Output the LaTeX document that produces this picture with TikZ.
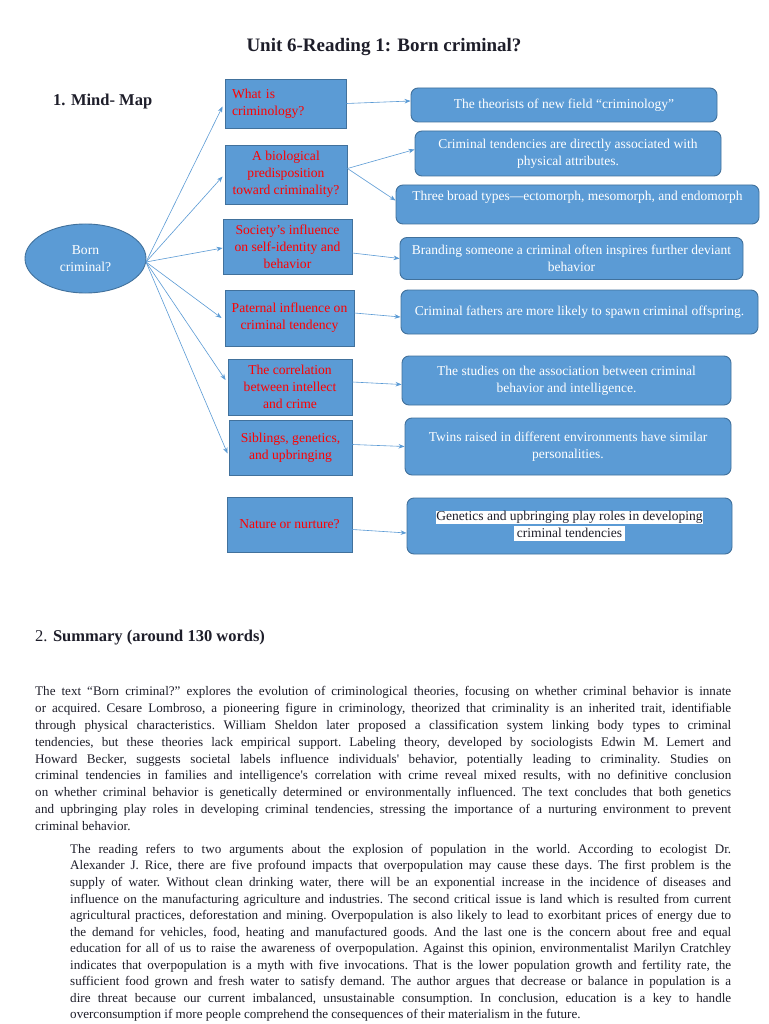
\documentclass[tikz,border=0pt]{standalone}
\usepackage{fontspec}
\setmainfont{Liberation Serif}
\usetikzlibrary{arrows.meta,shapes.geometric}
\definecolor{blu}{HTML}{5B9BD5}
\definecolor{bord}{HTML}{41719C}
\definecolor{ink}{HTML}{1E1E2A}
\newcommand\fsz[2]{\fontsize{#1}{#2}\selectfont}
\tikzset{
  lbox/.style={draw=bord, fill=blu, text=red, align=center, font=\fsz{13.6}{17}, inner sep=1pt, line width=0.9pt},
  rbox/.style={draw=bord, fill=blu, text=white, rounded corners=7pt, align=center, font=\fsz{13.5}{17}, inner sep=1pt, line width=0.9pt},
  arr/.style={draw=blu, line width=0.6pt, -{Stealth[length=6pt,width=4.5pt]}},
  body/.style={anchor=north west, inner sep=0pt, align=justify, text=ink, font=\frenchspacing\fsz{13.1}{16.9}}
}
\begin{document}
\begin{tikzpicture}[x=1pt,y=-1pt]
\useasboundingbox (0,0) rectangle (768,1024);
\fill[white] (0,0) rectangle (768,1024);

\node[font=\bfseries\fsz{19}{20}, text=ink] (title) at (384,47) {Unit 6-Reading 1: Born criminal?};
\node[font=\bfseries\fsz{16.5}{18}, text=ink, anchor=west, inner sep=0pt] (mm) at (53,102) {1. Mind- Map};

% ellipse
\node[ellipse, draw=bord, fill=blu, line width=0.9pt, minimum width=121pt, minimum height=69pt, inner sep=0pt, text=white, align=center, font=\fsz{13.6}{17}] (bc) at (85.5,258.5) {Born\\criminal?};
\coordinate (e) at (146,262);

% left boxes
\node[lbox, minimum width=121pt, minimum height=49pt, text width=107pt, align=left] (b1) at (285.5,103.5) {What is\\criminology?};
\node[lbox, minimum width=122pt, minimum height=59pt] (b2) at (286,174.5) {A biological\\predisposition\\toward criminality?};
\node[lbox, minimum width=129pt, minimum height=55pt] (b3) at (287.5,247) {Society’s influence\\on self-identity and\\behavior};
\node[lbox, minimum width=129pt, minimum height=56pt] (b4) at (289.5,318) {Paternal influence on\\criminal tendency};
\node[lbox, minimum width=124pt, minimum height=56pt] (b5) at (290,387) {The correlation\\between intellect\\and crime};
\node[lbox, minimum width=123pt, minimum height=55pt] (b6) at (290.5,447.5) {Siblings, genetics,\\and upbringing};
\node[lbox, minimum width=125pt, minimum height=55pt] (b7) at (289.5,524.5) {Nature or nurture?};

% right boxes
\node[rbox, minimum width=306pt, minimum height=34pt] (r1) at (564,105) {The theorists of new field “criminology”};
\node[rbox, minimum width=306pt, minimum height=45pt] (r2) at (568,153.5) {Criminal tendencies are directly associated with\\physical attributes.};
\node[rbox, minimum width=363pt, minimum height=39pt] (r3) at (577.5,204.5) {Three broad types—ectomorph, mesomorph, and endomorph\hspace{10pt}\\\mbox{}};
\node[rbox, minimum width=343pt, minimum height=42pt] (r4) at (571.5,258.5) {Branding someone a criminal often inspires further deviant\\behavior};
\node[rbox, minimum width=357pt, minimum height=44pt] (r5) at (579.5,312) {Criminal fathers are more likely to spawn criminal offspring.};
\node[rbox, minimum width=329pt, minimum height=49pt] (r6) at (566.5,380.5) {The studies on the association between criminal\\behavior and intelligence.};
\node[rbox, minimum width=326pt, minimum height=57pt] (r7) at (568,446.5) {Twins raised in different environments have similar\\personalities.};
\node[rbox, minimum width=325pt, minimum height=56pt, text=ink] (r8) at (569.5,526) {\setlength{\fboxsep}{0.6pt}\colorbox{white}{Genetics and upbringing play roles in developing}\\\colorbox{white}{criminal tendencies}};

% arrows from ellipse
\draw[arr] (e) -- ([yshift=-3pt,xshift=-2pt]b1.west);
\draw[arr] (e) -- ([yshift=-2pt,xshift=-2pt]b2.west);
\draw[arr] (e) -- ([yshift=-1pt]b3.west);
\draw[arr] (e) -- ([xshift=-3pt]b4.west);
\draw[arr] (e) -- ([yshift=7pt,xshift=-2pt]b5.west);
\draw[arr] (e) -- ([yshift=-6pt,xshift=-1pt]b6.west);

% arrows to right boxes
\draw[arr] (b1.east) -- ([yshift=4pt]r1.west);
\draw[arr] ([yshift=6pt]b2.east) -- ([yshift=4pt]r2.west);
\draw[arr] ([yshift=6pt]b2.east) -- ([yshift=4pt]r3.west);
\draw[arr] ([yshift=-6pt]b3.east) -- (r4.west);
\draw[arr] ([yshift=5pt]b4.east) -- ([yshift=-5pt]r5.west);
\draw[arr] ([yshift=5pt]b5.east) -- ([yshift=-4pt]r6.west);
\draw[arr] ([yshift=3pt]b6.east) -- (r7.west);
\draw[arr] ([yshift=-5pt]b7.east) -- ([yshift=-7pt]r8.west);

% summary
\node[anchor=west, inner sep=0pt, text=ink, font=\fsz{16.5}{18}] (sh) at (35,638) {2. \textbf{Summary (around 130 words)}};

\node[body, text width=696pt] (p1) at (35,686) {The text “Born criminal?” explores the evolution of criminological theories, focusing on whether criminal behavior is innate\linebreak
or acquired. Cesare Lombroso, a pioneering figure in criminology, theorized that criminality is an inherited trait, identifiable\linebreak
through physical characteristics. William Sheldon later proposed a classification system linking body types to criminal\linebreak
tendencies, but these theories lack empirical support. Labeling theory, developed by sociologists Edwin M. Lemert and\linebreak
Howard Becker, suggests societal labels influence individuals\textquotesingle{} behavior, potentially leading to criminality. Studies on\linebreak
criminal tendencies in families and intelligence\textquotesingle s correlation with crime reveal mixed results, with no definitive conclusion\linebreak
on whether criminal behavior is genetically determined or environmentally influenced. The text concludes that both genetics\linebreak
and upbringing play roles in developing criminal tendencies, stressing the importance of a nurturing environment to prevent\linebreak
criminal behavior.};

\node[body, text width=661pt, font=\frenchspacing\fsz{13.1}{16.55}] (p2) at (70,844) {The reading refers to two arguments about the explosion of population in the world. According to ecologist Dr.\linebreak
Alexander J. Rice, there are five profound impacts that overpopulation may cause these days. The first problem is the\linebreak
supply of water. Without clean drinking water, there will be an exponential increase in the incidence of diseases and\linebreak
influence on the manufacturing agriculture and industries. The second critical issue is land which is resulted from current\linebreak
agricultural practices, deforestation and mining. Overpopulation is also likely to lead to exorbitant prices of energy due to\linebreak
the demand for vehicles, food, heating and manufactured goods. And the last one is the concern about free and equal\linebreak
education for all of us to raise the awareness of overpopulation. Against this opinion, environmentalist Marilyn Cratchley\linebreak
indicates that overpopulation is a myth with five invocations. That is the lower population growth and fertility rate, the\linebreak
sufficient food grown and fresh water to satisfy demand. The author argues that decrease or balance in population is a\linebreak
dire threat because our current imbalanced, unsustainable consumption. In conclusion, education is a key to handle\linebreak
overconsumption if more people comprehend the consequences of their materialism in the future.};
\end{tikzpicture}
\end{document}
